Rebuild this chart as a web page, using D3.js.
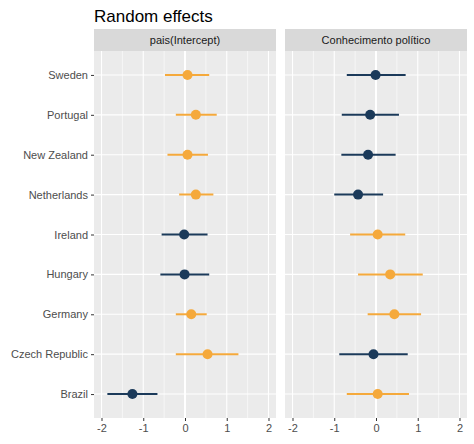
<!DOCTYPE html>
<html>
<head>
<meta charset="utf-8">
<script src="https://cdn.jsdelivr.net/npm/d3@7"></script>
<style>
  body { margin: 0; background: #fff; }
  text { font-family: "Liberation Sans", Arial, sans-serif; }
</style>
</head>
<body>
<div id="chart"></div>
<script>
// countries, bottom to top as drawn
var countries = ["Brazil", "Czech Republic", "Germany", "Hungary", "Ireland",
                 "Netherlands", "New Zealand", "Portugal", "Sweden"]
var panels = ["pais(Intercept)", "Conhecimento político"]

// estimates and intervals, same order as countries
var interceptEst = [-1.26, 0.54, 0.15, -0.01, -0.02, 0.26, 0.06, 0.26, 0.06]
var interceptLo  = [-1.86, -0.22, -0.22, -0.59, -0.56, -0.14, -0.42, -0.22, -0.48]
var interceptHi  = [-0.66, 1.28, 0.52, 0.58, 0.54, 0.68, 0.55, 0.76, 0.58]

var conhecEst = [0.04, -0.06, 0.44, 0.34, 0.04, -0.43, -0.19, -0.14, -0.01]
var conhecLo  = [-0.70, -0.88, -0.20, -0.43, -0.62, -1.00, -0.83, -0.82, -0.70]
var conhecHi  = [0.79, 0.76, 1.08, 1.12, 0.70, 0.17, 0.47, 0.55, 0.71]

var xTicks = [-2, -1, 0, 1, 2]

var posColor = "#f5a93b"
var negColor = "#1b3a5a"

var W = 474, H = 444
var panelTop = 51, panelBottom = 418, stripH = 22
var panelX = [[94, 276], [285, 467]]

var svg = d3.select("#chart").append("svg").attr("width", W).attr("height", H)

svg.append("text").attr("x", 94).attr("y", 22)
  .attr("font-size", 17).attr("fill", "#000").text("Random effects")

var y = d3.scalePoint().domain(countries)
  .range([panelBottom, panelTop]).padding(0.6)

var series = [
  countries.map(function(c, i){ return {country: c, est: interceptEst[i], lo: interceptLo[i], hi: interceptHi[i]} }),
  countries.map(function(c, i){ return {country: c, est: conhecEst[i], lo: conhecLo[i], hi: conhecHi[i]} })
]

panels.forEach(function(name, p){
  var x0 = panelX[p][0], x1 = panelX[p][1]
  var x = d3.scaleLinear().domain([-2.18, 2.18]).range([x0, x1])
  var g = svg.append("g")

  // strip
  g.append("rect").attr("x", x0).attr("y", panelTop - stripH)
    .attr("width", x1 - x0).attr("height", stripH).attr("fill", "#d9d9d9")
  g.append("text").attr("x", (x0 + x1) / 2).attr("y", panelTop - stripH / 2)
    .attr("dy", "0.35em").attr("text-anchor", "middle")
    .attr("font-size", 11).attr("fill", "#1a1a1a").text(name)

  // background
  g.append("rect").attr("x", x0).attr("y", panelTop)
    .attr("width", x1 - x0).attr("height", panelBottom - panelTop).attr("fill", "#ebebeb")

  // minor grid
  var minor = d3.range(-2.5, 2.6, 1).filter(function(v){ return x(v) > x0 && x(v) < x1 })
  g.selectAll("line.minor").data(minor).enter().append("line")
    .attr("x1", x).attr("x2", x).attr("y1", panelTop).attr("y2", panelBottom)
    .attr("stroke", "#fff").attr("stroke-width", 0.55)

  // major grid
  g.selectAll("line.vmaj").data(xTicks).enter().append("line")
    .attr("x1", x).attr("x2", x).attr("y1", panelTop).attr("y2", panelBottom)
    .attr("stroke", "#fff").attr("stroke-width", 1.1)
  g.selectAll("line.hmaj").data(countries).enter().append("line")
    .attr("x1", x0).attr("x2", x1).attr("y1", y).attr("y2", y)
    .attr("stroke", "#fff").attr("stroke-width", 1.1)

  // zero line
  g.append("line").attr("x1", x(0)).attr("x2", x(0))
    .attr("y1", panelTop).attr("y2", panelBottom)
    .attr("stroke", "#fff").attr("stroke-width", 2)

  // x axis
  var xAxis = g.append("g").attr("transform", "translate(0," + panelBottom + ")")
    .call(d3.axisBottom(x).tickValues(xTicks).tickSize(3).tickPadding(3)
      .tickFormat(function(d){ return d < 0 ? "-" + Math.abs(d) : d }))
  xAxis.select(".domain").remove()
  xAxis.selectAll("line").attr("stroke", "#333")
  xAxis.selectAll("text").attr("font-size", 11).attr("fill", "#4d4d4d")
    .style("font-family", "\"Liberation Sans\", Arial, sans-serif")

  // y axis on first panel
  if (p === 0) {
    var yAxis = g.append("g").attr("transform", "translate(" + x0 + ",0)")
      .call(d3.axisLeft(y).tickSize(3).tickPadding(3))
    yAxis.select(".domain").remove()
    yAxis.selectAll("line").attr("stroke", "#333")
    yAxis.selectAll("text").attr("font-size", 11).attr("fill", "#4d4d4d")
      .style("font-family", "\"Liberation Sans\", Arial, sans-serif")
  }

  var col = function(d){ return d.est >= 0 ? posColor : negColor }

  g.selectAll("line.err").data(series[p]).enter().append("line")
    .attr("x1", function(d){ return x(d.lo) }).attr("x2", function(d){ return x(d.hi) })
    .attr("y1", function(d){ return y(d.country) }).attr("y2", function(d){ return y(d.country) })
    .attr("stroke", col).attr("stroke-width", 2)

  g.selectAll("circle.pt").data(series[p]).enter().append("circle")
    .attr("cx", function(d){ return x(d.est) }).attr("cy", function(d){ return y(d.country) })
    .attr("r", 5).attr("fill", col)
})
</script>
</body>
</html>
